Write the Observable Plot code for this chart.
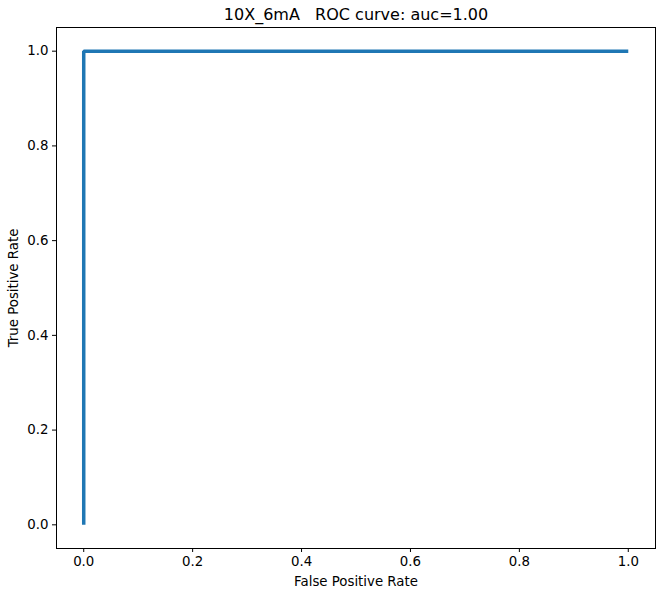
<!DOCTYPE html>
<html>
<head>
<meta charset="utf-8">
<script src="https://cdn.jsdelivr.net/npm/d3@7"></script>
<script src="https://cdn.jsdelivr.net/npm/@observablehq/plot@0.6"></script>
<style>
  body { margin: 0; background: #fff; }
  svg, svg text { font-family: "DejaVu Sans", sans-serif !important; }
</style>
</head>
<body>
<div id="chart"></div>
<script>
const fpr = [0, 0, 1];
const tpr = [0, 1, 1];
const tickValues = [0, 0.2, 0.4, 0.6, 0.8, 1.0];
const titleText = "10X_6mA   ROC curve: auc=1.00";
const xLabel = "False Positive Rate";
const yLabel = "True Positive Rate";

const data = fpr.map((f, i) => ({fpr: f, tpr: tpr[i]}));

const chart = Plot.plot({
  width: 660,
  height: 599,
  marginLeft: 56,
  marginRight: 5,
  marginTop: 27,
  marginBottom: 51,
  style: {fontFamily: "'DejaVu Sans', sans-serif", fontSize: "13.33px", color: "#000", background: "#fff"},
  x: {domain: [-0.05, 1.05]},
  y: {domain: [-0.05, 1.05]},
  marks: [
    Plot.frame({stroke: "black", strokeWidth: 1}),
    Plot.axisX({ticks: tickValues, tickFormat: d3.format(".1f"), tickSize: 4, tickPadding: 4, label: xLabel, labelAnchor: "center", labelArrow: "none", labelOffset: 37, fontSize: 13.33}),
    Plot.axisY({ticks: tickValues, tickFormat: d3.format(".1f"), tickSize: 4, tickPadding: 4, label: yLabel, labelAnchor: "center", labelArrow: "none", labelOffset: 48, fontSize: 13.33}),
    Plot.line(data, {x: "fpr", y: "tpr", stroke: "#1f77b4", strokeWidth: 3.5, strokeLinejoin: "miter", strokeLinecap: "butt"}),
    Plot.text([titleText], {frameAnchor: "top", lineAnchor: "middle", dy: -13, text: d => d, fontSize: 16, fill: "#000"})
  ]
});
document.getElementById("chart").appendChild(chart);
</script>
</body>
</html>
